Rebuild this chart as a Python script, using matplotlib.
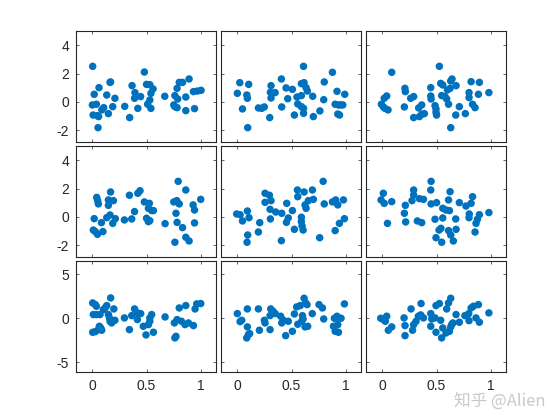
import matplotlib
matplotlib.use("Agg")
import matplotlib.pyplot as plt

# ---- data ----
x1 = [0.006,0.02,0.003,0.04,0.01,0.05,0.06,0.055,0.064,0.09,0.107,0.135,0.15,0.165,0.17,0.21,0.19,0.30,0.345,0.367,0.394,0.39,0.42,0.446,0.48,0.50,0.53,0.56,0.54,0.53,0.51,0.54,0.667,0.76,0.78,0.80,0.83,0.89,0.786,0.76,0.78,0.75,0.86,0.86,0.93,0.94,0.966,1.0]
y1 = [2.51,0.54,-0.21,-0.16,-0.92,-0.96,-1.03,-1.81,1.01,-0.56,-0.40,0.49,-0.82,1.38,1.41,0.26,-0.33,-0.31,-1.10,1.15,0.66,0.26,-0.45,0.38,2.11,1.24,1.22,0.92,0.61,0.14,-0.16,-0.45,0.40,0.45,0.96,1.38,1.38,1.62,0.21,-0.33,-0.40,-0.21,0.35,-0.61,0.73,-0.47,0.77,0.82]

x2 = [0.025,0.003,0.107,0.09,0.095,0.05,0.098,0.196,0.226,0.25,0.30,0.312,0.306,0.312,0.349,0.407,0.41,0.45,0.465,0.508,0.526,0.55,0.557,0.59,0.59,0.61,0.615,0.633,0.645,0.59,0.61,0.61,0.694,0.70,0.76,0.795,0.80,0.875,0.917,0.988,0.90,0.93,0.95,0.97,0.924,0.94]
y2 = [1.36,0.61,1.24,0.49,0.26,-0.49,-1.81,-0.42,-0.45,-0.35,-1.10,1.15,0.68,0.28,0.66,1.62,-0.35,0.99,0.23,0.89,-0.92,0.35,-0.14,0.45,1.29,2.51,1.36,1.01,0.77,-0.33,-0.80,-0.45,0.40,-1.03,-0.63,0.16,1.41,2.09,0.75,0.54,-0.16,-0.21,-0.21,-0.21,-0.85,-0.92]

x3 = [0.089,-0.006,0.012,0.02,0.043,0.027,0.055,0.205,0.21,0.214,0.263,0.29,0.29,0.336,0.343,0.364,0.364,0.388,0.447,0.447,0.45,0.486,0.495,0.495,0.50,0.526,0.538,0.557,0.547,0.578,0.60,0.624,0.642,0.63,0.679,0.61,0.593,0.63,0.676,0.709,0.764,0.798,0.798,0.817,0.83,0.853,0.893,0.884,0.98]
y3 = [2.09,-0.16,-0.35,0.26,0.42,-0.45,-0.56,-0.35,0.96,0.73,0.26,0.38,-1.10,-0.42,-1.03,-0.21,-0.87,-0.82,1.01,0.42,0.21,-0.26,-0.49,-0.73,-0.92,2.51,1.31,1.20,0.45,0.38,0.85,0.96,1.62,1.48,1.15,-0.16,0.21,-1.81,-0.92,-0.33,-0.82,0.66,0.31,1.43,-0.16,-0.40,1.38,0.54,0.66]

x4 = [0.02,0.012,0.03,0.05,0.10,0.043,0.052,0.058,0.086,0.15,0.15,0.17,0.196,0.135,0.165,0.19,0.214,0.297,0.343,0.364,0.39,0.42,0.44,0.48,0.526,0.517,0.547,0.563,0.50,0.517,0.53,0.67,0.76,0.75,0.777,0.80,0.79,0.77,0.78,0.83,0.86,0.86,0.89,0.927,0.94,0.94,0.997]
y4 = [-0.12,-0.92,-1.03,-1.22,-1.03,1.38,1.15,0.92,-0.40,0.82,1.20,1.76,1.15,-0.05,0.14,-0.45,-0.12,-0.21,1.53,-0.14,0.38,1.67,1.85,1.06,0.96,0.61,0.45,0.45,-0.09,-0.33,-0.26,-0.47,-1.78,1.06,1.15,0.92,2.51,0.26,-0.38,-0.75,1.90,-1.43,-1.69,0.85,0.49,-0.42,1.24]

x5 = [-0.003,0.028,0.05,0.095,0.11,0.098,0.092,0.208,0.196,0.257,0.297,0.257,0.312,0.303,0.306,0.355,0.41,0.407,0.456,0.47,0.453,0.508,0.526,0.554,0.557,0.59,0.59,0.596,0.606,0.615,0.624,0.633,0.654,0.691,0.70,0.758,0.79,0.80,0.875,0.905,0.924,0.976,0.90,0.939,0.985]
y5 = [0.21,0.16,-0.28,0.42,-0.05,-1.27,-1.78,-0.40,-1.06,1.67,1.53,1.03,1.15,0.54,-0.14,0.35,0.26,-1.67,0.96,-0.07,-0.38,0.45,-0.87,1.90,1.43,-0.02,-0.33,-0.63,-0.92,1.76,0.85,0.61,1.15,1.90,1.24,-1.46,2.51,0.92,1.06,1.20,0.85,1.20,-0.96,-0.45,-0.12]

x6 = [0.012,-0.009,0.02,0.089,0.05,0.214,0.205,0.217,0.29,0.29,0.275,0.324,0.364,0.343,0.38,0.45,0.447,0.45,0.50,0.486,0.557,0.557,0.54,0.523,0.495,0.547,0.587,0.618,0.624,0.61,0.61,0.63,0.654,0.679,0.676,0.709,0.77,0.817,0.83,0.80,0.798,0.853,0.862,0.893,0.875,0.98]
y6 = [1.67,1.20,0.96,1.08,-0.45,0.82,0.26,-0.35,1.90,1.55,1.15,-0.28,-0.40,1.29,1.24,2.51,1.90,0.92,1.01,-0.16,0.61,-0.07,-0.80,-0.92,-1.46,-1.78,0.49,0.45,1.78,1.20,-0.96,-1.27,-1.69,-0.87,-0.14,1.01,0.77,0.96,1.43,0.21,-0.05,-1.06,-0.45,0.16,-0.16,0.31]

x7 = [0.006,0.03,0.04,0.012,0.04,0.073,0.006,0.03,0.058,0.067,0.089,0.08,0.104,0.135,0.12,0.171,0.15,0.16,0.165,0.18,0.20,0.21,0.297,0.343,0.364,0.39,0.416,0.416,0.446,0.47,0.495,0.517,0.53,0.547,0.53,0.563,0.67,0.755,0.78,0.77,0.76,0.80,0.82,0.86,0.853,0.884,0.93,0.945,0.96,0.997]
y7 = [1.74,1.55,1.36,0.42,0.42,0.42,-1.59,-1.52,-1.29,-0.91,-1.36,-1.10,0.98,1.44,1.17,2.31,0.42,0.04,-0.34,-0.53,1.06,-0.23,0.04,-1.29,0.30,1.06,-0.15,0.61,0.53,-0.91,-1.89,-0.72,-0.34,0.42,0.04,-1.59,0.15,-0.53,-0.15,-2.05,-2.23,1.17,-0.34,1.44,-0.72,-0.53,-0.83,1.06,1.63,1.67]

x8 = [0.003,0.028,0.043,0.095,0.095,0.104,0.089,0.116,0.196,0.205,0.251,0.257,0.303,0.303,0.309,0.33,0.35,0.40,0.41,0.425,0.47,0.446,0.508,0.526,0.547,0.557,0.58,0.60,0.606,0.593,0.615,0.63,0.642,0.624,0.648,0.69,0.752,0.783,0.795,0.893,0.917,0.93,0.954,0.985,0.884,0.90,0.924,0.93]
y8 = [0.53,-0.38,-0.23,1.06,-0.98,-1.86,-2.23,-1.74,1.06,-1.36,-0.23,-0.53,-1.29,0.30,1.06,0.80,0.53,0.23,-0.53,-0.23,-0.34,-1.97,-1.48,0.49,1.29,-0.68,1.44,0.30,-0.08,-0.34,2.27,1.74,1.55,-0.98,-0.91,0.53,1.55,1.17,-0.08,0.00,0.23,0.04,0.00,1.63,-0.91,-1.48,-0.72,-1.59]

x9 = [-0.012,0.012,0.03,0.043,0.058,0.089,0.202,0.211,0.211,0.266,0.29,0.28,0.312,0.333,0.358,0.355,0.38,0.447,0.456,0.447,0.486,0.495,0.526,0.495,0.538,0.557,0.547,0.587,0.593,0.61,0.63,0.618,0.639,0.63,0.65,0.679,0.709,0.76,0.795,0.798,0.817,0.838,0.862,0.884,0.893,0.98]
y9 = [0.00,-0.15,-0.34,0.23,-1.36,-0.98,0.04,-0.83,-1.97,1.06,-0.72,-1.36,-0.34,0.23,1.67,0.38,0.04,0.53,-0.08,-0.91,0.04,1.44,1.67,-1.59,-0.23,-1.10,-2.23,-1.67,1.06,1.74,2.27,-1.48,-0.72,-0.98,-0.53,0.42,-0.45,0.30,0.53,-0.27,1.17,1.36,0.04,1.55,-0.45,0.61]

xs = [x1, x2, x3, x4, x5, x6, x7, x8, x9]
ys = [y1, y2, y3, y4, y5, y6, y7, y8, y9]

xticks = [0, 0.5, 1]
xtick_labels = ["0", "0.5", "1"]
yticks_rows = [[-2, 0, 2, 4], [-2, 0, 2, 4], [-5, 0, 5]]
ylims_rows = [(-2.82, 5.0), (-2.82, 5.0), (-6.1, 6.5)]

# ---- drawing ----
plt.rcParams['font.family'] = ['Liberation Sans', 'DejaVu Sans']
fig = plt.figure(figsize=(5.6, 4.2), dpi=100)
W, H = 560.0, 420.0
col_left = [76, 221, 366]
col_w = 140
row_top = [31, 146, 261]
row_h = 111
edge = '#262626'
blue = '#0072BD'

for r in range(3):
    for c in range(3):
        i = r * 3 + c
        ax = fig.add_axes([col_left[c] / W, 1 - (row_top[r] + row_h) / H, col_w / W, row_h / H])
        ax.scatter(xs[i], ys[i], s=29, color=blue, edgecolors='none', zorder=3)
        ax.set_xlim(-0.147, 1.137)
        ax.set_ylim(*ylims_rows[r])
        ax.set_xticks(xticks)
        ax.set_yticks(yticks_rows[r])
        ax.tick_params(direction='in', length=2.5, width=0.5, colors=edge,
                       top=True, right=True, labelsize=10, pad=5)
        if r == 2:
            ax.set_xticklabels(xtick_labels)
        else:
            ax.set_xticklabels([])
        if c == 0:
            ax.set_yticklabels([str(v) for v in yticks_rows[r]])
        else:
            ax.set_yticklabels([])
        for sp in ax.spines.values():
            sp.set_color(edge)
            sp.set_linewidth(0.8)

fig.text(545 / W, 1 - 401 / H, "知乎 @Alien", ha='right', va='center',
         fontsize=12, color='#c9c9c9',
         family=['Noto Sans CJK SC', 'DejaVu Sans'])

fig.savefig("out.png", dpi=100)
